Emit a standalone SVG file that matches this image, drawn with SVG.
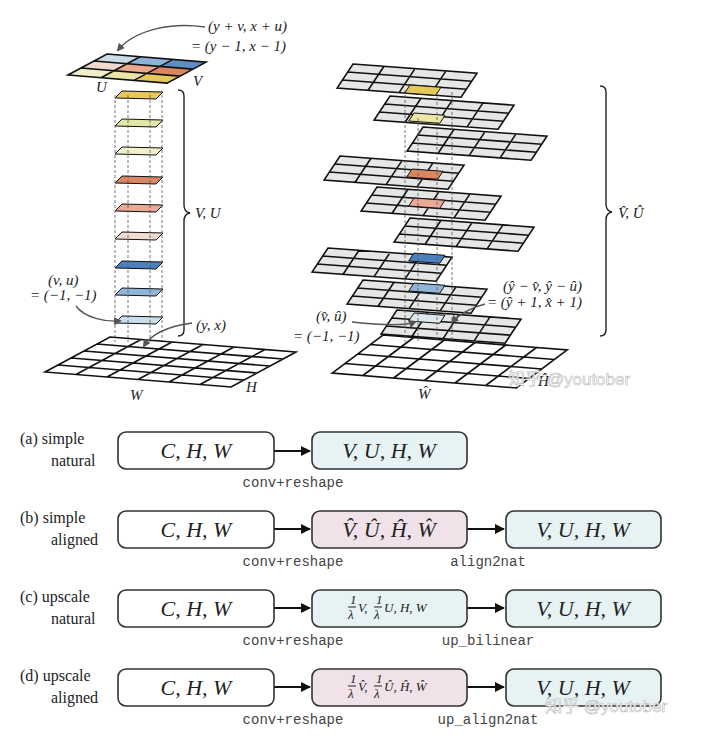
<svg xmlns="http://www.w3.org/2000/svg" width="710" height="748" viewBox="0 0 710 748">
<style>
.g{fill:none;stroke:#111;stroke-width:1.6}
.gl{fill:#e6e6e6;stroke:#111;stroke-width:1.6}
.m{font-family:"Liberation Serif",serif;font-style:italic;font-size:15px;fill:#222}
.d{stroke:#555;stroke-width:0.8;stroke-dasharray:3 2;fill:none}
.a{fill:none;stroke:#555;stroke-width:1.4;marker-end:url(#ah)}
.bx{stroke:#333;stroke-width:1.6}
.bt{font-family:"Liberation Serif",serif;font-style:italic;font-size:22px;fill:#222;text-anchor:middle}
.sm{font-family:"Liberation Serif",serif;font-style:italic;font-size:13px;fill:#222}
.lb{font-family:"Liberation Mono",monospace;font-size:14px;fill:#444;text-anchor:middle}
.rl{font-family:"Liberation Serif",serif;font-size:16px;fill:#222}
.c{stroke:#111;stroke-width:1}
.wm{font-family:"Liberation Sans","Noto Sans CJK SC",sans-serif;font-size:17px;fill:#fff;stroke:#bbb;stroke-width:0.6}
</style>
<defs>
<marker id="ah" markerWidth="8" markerHeight="8" refX="6" refY="4" orient="auto" markerUnits="userSpaceOnUse"><path d="M0,0L8,4L0,8z" fill="#555"/></marker>
<marker id="bh" markerWidth="10" markerHeight="10" refX="9" refY="5" orient="auto" markerUnits="userSpaceOnUse"><path d="M0,0L10,5L0,10z" fill="#111"/></marker>
<path id="g43" vector-effect="non-scaling-stroke" d="M0,0H4V3H0z M1,0V3 M2,0V3 M3,0V3 M0,1H4 M0,2H4"/>
<polygon id="cell" points="0,0 31,2.3 25.7,10.3 -5.3,8"/>
</defs>

<g id="left-figure">
<g id="uv-grid" transform="matrix(33 2.7 -13 7 107 54)">
<rect x="0" y="0" width="1" height="1" fill="#c9dce8"/><rect x="1" y="0" width="1" height="1" fill="#8db4d6"/><rect x="2" y="0" width="1" height="1" fill="#5d8fc4"/>
<rect x="0" y="1" width="1" height="1" fill="#f0d9d0"/><rect x="1" y="1" width="1" height="1" fill="#e8a98f"/><rect x="2" y="1" width="1" height="1" fill="#d98662"/>
<rect x="0" y="2" width="1" height="1" fill="#f1efc9"/><rect x="1" y="2" width="1" height="1" fill="#ece5a8"/><rect x="2" y="2" width="1" height="1" fill="#e6c75a"/>
<path class="g" vector-effect="non-scaling-stroke" d="M0,0H3V3H0z M1,0V3 M2,0V3 M0,1H3 M0,2H3"/>
</g>
<g id="stack">
<polygon points="122,91 163,92 156,99 115,98" fill="#e6c75a" class="c"/>
<polygon points="122,119 163,120 156,127 115,126" fill="#e3e7a6" class="c"/>
<polygon points="122,147 163,148 156,155 115,154" fill="#f1f0cb" class="c"/>
<polygon points="122,176 163,177 156,184 115,183" fill="#d88762" class="c"/>
<polygon points="122,204 163,205 156,212 115,211" fill="#e9a994" class="c"/>
<polygon points="122,232 163,233 156,240 115,239" fill="#f1dcd3" class="c"/>
<polygon points="122,261 163,262 156,269 115,268" fill="#4a80c0" class="c"/>
<polygon points="122,288 163,289 156,296 115,295" fill="#8fb5d9" class="c"/>
<polygon points="122,316 163,317 156,324 115,323" fill="#cadde9" class="c"/>
<path class="d" d="M115,95V342 M128,95V342 M150,95V342 M162,95V342"/>
</g>
<g id="base-left" transform="matrix(31 2.5 -13 7 110 337)">
<path class="g" vector-effect="non-scaling-stroke" d="M0,0H6V5H0z M1,0V5 M2,0V5 M3,0V5 M4,0V5 M5,0V5 M0,1H6 M0,2H6 M0,3H6 M0,4H6"/>
</g>
<path d="M178,90 q6,0 6,6 V205 q0,7 6,8 q-6,1 -6,8 V330 q0,6 -6,6" fill="none" stroke="#222" stroke-width="1.4"/>
<text class="m" x="195" y="218">V, U</text>
<text class="m" x="208" y="31">(y + v, x + u)</text>
<text class="m" x="191" y="51">= (y − 1, x − 1)</text>
<text class="m" x="96" y="92">U</text>
<text class="m" x="193" y="86">V</text>
<text class="m" x="48" y="285">(v, u)</text>
<text class="m" x="30" y="300">= (−1, −1)</text>
<text class="m" x="196" y="330">(y, x)</text>
<text class="m" x="130" y="400">W</text>
<text class="m" x="246" y="392">H</text>
</g>

<g id="right-figure">
<g id="L1"><use href="#g43" class="gl" transform="matrix(31 2.3 -5.3 8 353 64)"/><use href="#cell" x="410" y="85" fill="#e6c75a" class="c"/></g>
<g id="L2"><use href="#g43" class="gl" transform="matrix(31 2.3 -5.3 8 390 96)"/><use href="#cell" x="414" y="113" fill="#ebe6a6" class="c"/></g>
<g id="L3"><use href="#g43" class="gl" transform="matrix(31 2.3 -5.3 8 423 127)"/></g>
<g id="L4"><use href="#g43" class="gl" transform="matrix(31 2.3 -5.3 8 340 156)"/><use href="#cell" x="412" y="169" fill="#d98662" class="c"/></g>
<g id="L5"><use href="#g43" class="gl" transform="matrix(31 2.3 -5.3 8 377 187)"/><use href="#cell" x="414" y="198" fill="#eaa994" class="c"/></g>
<g id="L6"><use href="#g43" class="gl" transform="matrix(31 2.3 -5.3 8 410 218)"/></g>
<g id="L7"><use href="#g43" class="gl" transform="matrix(31 2.3 -5.3 8 328 248)"/><use href="#cell" x="414" y="253" fill="#4a80c0" class="c"/></g>
<g id="L8"><use href="#g43" class="gl" transform="matrix(31 2.3 -5.3 8 363 280)"/><use href="#cell" x="414" y="283" fill="#8fb5d9" class="c"/></g>
<g id="base-right" transform="matrix(30.7 2.5 -12.7 9.5 383 335)">
<path class="g" vector-effect="non-scaling-stroke" d="M0,0H6V4H0z M1,0V4 M2,0V4 M3,0V4 M4,0V4 M5,0V4 M0,1H6 M0,2H6 M0,3H6"/>
</g>
<g id="L9"><use href="#g43" class="gl" transform="matrix(31 2.3 -5.3 8 397 310)"/><use href="#cell" x="414" y="313" fill="#dde7ee" class="c"/></g>
<path class="d" d="M405,90V342 M418,118V342 M437,92V342 M452,92V342"/>
<path d="M600,86 q6,0 6,6 V204 q0,7 6,8 q-6,1 -6,8 V330 q0,6 -6,6" fill="none" stroke="#222" stroke-width="1.4"/>
<text class="m" x="618" y="218">V̂, Û</text>
<text class="m" x="503" y="291">(ŷ − v̂, ŷ − û)</text>
<text class="m" x="487" y="307">= (ŷ + 1, x̂ + 1)</text>
<text class="m" x="316" y="321">(v̂, û)</text>
<text class="m" x="293" y="341">= (−1, −1)</text>
<text class="m" x="418" y="399">Ŵ</text>
<text class="m" x="538" y="386">Ĥ</text>
</g>

<g id="connectors">
<path class="a" d="M205,27 C170,22 135,30 118,50"/>
<path class="a" d="M76,306 C85,318 105,322 120,321"/>
<path class="a" d="M192,323 C170,326 152,333 144,346"/>
<path class="a" d="M352,322 C380,325 405,326 415,322"/>
<path class="a" d="M485,304 C470,308 460,314 452,322"/>
<path d="M274,451H310" stroke="#111" stroke-width="1.8" marker-end="url(#bh)"/>
<path d="M274,529H310" stroke="#111" stroke-width="1.8" marker-end="url(#bh)"/>
<path d="M467,529H504" stroke="#111" stroke-width="1.8" marker-end="url(#bh)"/>
<path d="M274,608H310" stroke="#111" stroke-width="1.8" marker-end="url(#bh)"/>
<path d="M467,608H504" stroke="#111" stroke-width="1.8" marker-end="url(#bh)"/>
<path d="M274,687H310" stroke="#111" stroke-width="1.8" marker-end="url(#bh)"/>
<path d="M467,687H504" stroke="#111" stroke-width="1.8" marker-end="url(#bh)"/>
</g>

<text class="wm" x="508" y="385">知乎 @youtober</text>

<g id="row-a">
<text class="rl" x="20" y="444">(a) simple</text><text class="rl" x="51" y="466">natural</text>
<g id="a1"><rect class="bx" x="118" y="432" width="156" height="37" rx="8" fill="#fff"/><text class="bt" x="196" y="458">C, H, W</text></g>
<g id="a2"><rect class="bx" x="312" y="432" width="155" height="37" rx="8" fill="#e7f2f5"/><text class="bt" x="389" y="458">V, U, H, W</text></g>
<text class="lb" x="293" y="487">conv+reshape</text>
</g>
<g id="row-b">
<text class="rl" x="20" y="523">(b) simple</text><text class="rl" x="51" y="545">aligned</text>
<g id="b1"><rect class="bx" x="118" y="511" width="156" height="37" rx="8" fill="#fff"/><text class="bt" x="196" y="537">C, H, W</text></g>
<g id="b2"><rect class="bx" x="312" y="511" width="155" height="37" rx="8" fill="#f1e2ea"/><text class="bt" x="389" y="537">V̂, Û, Ĥ, Ŵ</text></g>
<g id="b3"><rect class="bx" x="506" y="511" width="155" height="37" rx="8" fill="#e7f2f5"/><text class="bt" x="583" y="537">V, U, H, W</text></g>
<text class="lb" x="293" y="566">conv+reshape</text><text class="lb" x="488" y="566">align2nat</text>
</g>
<g id="row-c">
<text class="rl" x="20" y="602">(c) upscale</text><text class="rl" x="51" y="624">natural</text>
<g id="c1"><rect class="bx" x="118" y="590" width="156" height="37" rx="8" fill="#fff"/><text class="bt" x="196" y="616">C, H, W</text></g>
<g id="c2"><rect class="bx" x="312" y="590" width="155" height="37" rx="8" fill="#e7f2f5"/>
<text class="sm" x="350" y="604">1</text><path d="M348,607h8" stroke="#222"/><text class="sm" x="348" y="619">λ</text><text class="sm" x="358" y="612">V,</text>
<text class="sm" x="376" y="604">1</text><path d="M374,607h8" stroke="#222"/><text class="sm" x="374" y="619">λ</text><text class="sm" x="384" y="612">U, H, W</text></g>
<g id="c3"><rect class="bx" x="506" y="590" width="155" height="37" rx="8" fill="#e7f2f5"/><text class="bt" x="583" y="616">V, U, H, W</text></g>
<text class="lb" x="293" y="645">conv+reshape</text><text class="lb" x="488" y="645">up_bilinear</text>
</g>
<g id="row-d">
<text class="rl" x="20" y="681">(d) upscale</text><text class="rl" x="51" y="703">aligned</text>
<g id="d1"><rect class="bx" x="118" y="669" width="156" height="37" rx="8" fill="#fff"/><text class="bt" x="196" y="695">C, H, W</text></g>
<g id="d2"><rect class="bx" x="312" y="669" width="155" height="37" rx="8" fill="#f1e2ea"/>
<text class="sm" x="350" y="683">1</text><path d="M348,686h8" stroke="#222"/><text class="sm" x="348" y="698">λ</text><text class="sm" x="358" y="691">V̂,</text>
<text class="sm" x="376" y="683">1</text><path d="M374,686h8" stroke="#222"/><text class="sm" x="374" y="698">λ</text><text class="sm" x="384" y="691">Û, Ĥ, Ŵ</text></g>
<g id="d3"><rect class="bx" x="506" y="669" width="155" height="37" rx="8" fill="#e7f2f5"/><text class="bt" x="583" y="695">V, U, H, W</text></g>
<text class="lb" x="293" y="724">conv+reshape</text><text class="lb" x="488" y="724">up_align2nat</text>
</g>
<text class="wm" x="545" y="712">知乎 @youtober</text>
</svg>
